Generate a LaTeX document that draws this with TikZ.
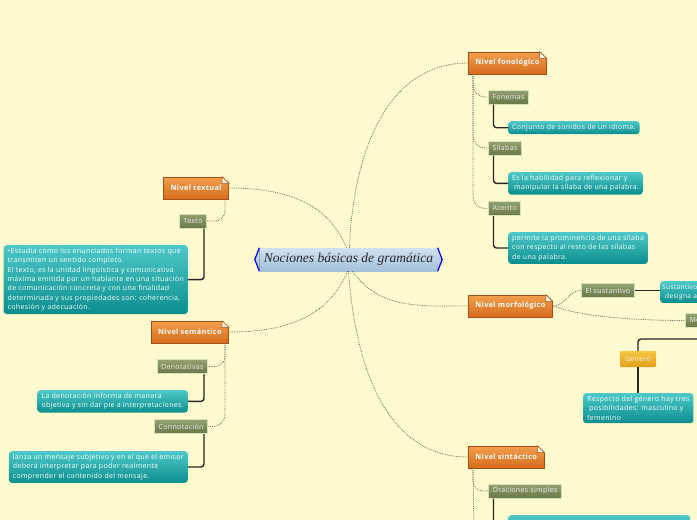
\documentclass[tikz,border=0pt]{standalone}
\usepackage{fontspec}
\setmainfont{Open Sans}[LetterSpace=5]
\newfontfamily\titulofont{Liberation Serif}
\usetikzlibrary{positioning}

\definecolor{fondo}{RGB}{255,251,206}
\definecolor{naranjaA}{RGB}{242,160,78}
\definecolor{naranjaB}{RGB}{214,108,28}
\definecolor{naranjaBorde}{RGB}{168,78,24}
\definecolor{verdeA}{RGB}{148,162,112}
\definecolor{verdeB}{RGB}{104,120,74}
\definecolor{verdeBorde}{RGB}{216,226,182}
\definecolor{tealA}{RGB}{78,200,200}
\definecolor{tealB}{RGB}{12,142,142}
\definecolor{oroA}{RGB}{248,198,66}
\definecolor{oroB}{RGB}{226,158,22}
\definecolor{azulA}{RGB}{208,226,242}
\definecolor{azulB}{RGB}{164,192,218}
\definecolor{gristrazo}{RGB}{112,110,96}

\tikzset{
  tema/.style={top color=azulA, bottom color=azulB, minimum width=178pt,
    minimum height=23pt, inner sep=0pt, text=black!85,
    font=\titulofont\itshape\fontsize{13.5}{15}\selectfont},
  chevron/.style={draw=blue, line width=1.2pt},
  nivel/.style={draw=naranjaBorde, line width=.8pt, top color=naranjaA,
    bottom color=naranjaB, text=white, minimum height=22pt, inner xsep=7pt,
    font=\bfseries\fontsize{7.3}{8}\selectfont},
  rama/.style={draw=verdeBorde, line width=1pt, top color=verdeA,
    bottom color=verdeB, text=white!94!black, minimum height=14pt,
    inner xsep=4pt, inner ysep=2pt, font=\fontsize{7}{8}\selectfont},
  genero/.style={top color=oroA, bottom color=oroB, text=white!94!black,
    minimum height=16pt, inner xsep=5pt, rounded corners=1pt,
    font=\fontsize{7}{8}\selectfont},
  nota/.style={rounded corners=3pt, top color=tealA, bottom color=tealB,
    text=white, align=left, inner xsep=4pt, inner ysep=3pt,
    font=\fontsize{7}{9.3}\selectfont},
  enlace/.style={densely dotted, line width=.8pt, draw=gristrazo},
  trazo/.style={line width=1.4pt, draw=black!85, rounded corners=3pt},
}

\begin{document}
\begin{tikzpicture}[x=1pt,y=1pt]
\fill[fondo] (0,0) rectangle (697,-520);
\useasboundingbox (0,0) rectangle (697,-520);

% tema central
\node[tema] (tema) at (348.5,-259.5) {Nociones básicas de gramática};
\fill[top color=azulA, bottom color=azulB]
  (tema.north west) -- ([xshift=-4.5pt]tema.west) -- (tema.south west) -- cycle;
\fill[top color=azulA, bottom color=azulB]
  (tema.north east) -- ([xshift=4.5pt]tema.east) -- (tema.south east) -- cycle;
\draw[chevron] (tema.north west) -- ([xshift=-4.5pt]tema.west) -- (tema.south west);
\draw[chevron] (tema.north east) -- ([xshift=4.5pt]tema.east) -- (tema.south east);

% niveles
\node[nivel, anchor=west] (fono) at (468,-63) {Nivel fonológico};
\node[nivel, anchor=east] (textual) at (229,-188) {Nivel textual};
\node[nivel, anchor=east] (sema) at (229,-332) {Nivel semántico};
\node[nivel, anchor=west] (morf) at (468,-306) {Nivel morfológico};
\node[nivel, anchor=west] (sint) at (468,-457) {Nivel sintáctico};

% esquina doblada
\foreach \n in {fono,textual,sema,morf,sint}{
  \fill[fondo] ([shift={(1,1)}]\n.north east) -- ++(-8,0) -- ++(8,-8) -- cycle;
  \filldraw[fill=white!92!naranjaA, draw=naranjaBorde, line width=.5pt]
    (\n.north east) ++(-7,0) -- ++(7,-7) -- ++(-7,0) -- cycle;
}

% ramas
\node[rama, anchor=west] (fonemas) at (488,-97) {Fonemas};
\node[rama, anchor=west] (silabas) at (488,-148) {Sílabas};
\node[rama, anchor=west] (acento) at (488,-208.5) {Acento};
\node[rama, anchor=east] (texto) at (207,-221) {Texto};
\node[rama, anchor=east] (deno) at (208,-366.5) {Denotativas};
\node[rama, anchor=east] (conno) at (208,-426.5) {Connotación};
\node[rama, anchor=west] (sust) at (581,-290.5) {El sustantivo};
\node[rama, anchor=west, text width=40pt, align=left] (mo) at (685,-320.5) {Mo};
\node[rama, anchor=west] (orac) at (488,-491) {Oraciones simples};
\node[genero] (gen) at (638,-359) {Generó};

% notas
\node[nota, anchor=north west] (conj) at (508,-121) {Conjunto de sonidos de un idioma.};
\node[nota, anchor=north west] (habil) at (508,-172)
  {Es la habilidad para reflexionar y\\\hspace*{2pt}manipular la sílaba de una palabra.};
\node[nota, anchor=north west] (perm) at (508,-232)
  {permite la prominencia de una sílaba\\con respecto al resto de las sílabas\\de una palabra.};
\node[nota, anchor=north east] (textnota) at (188,-245)
  {•Estudia cómo los enunciados forman textos que\\transmiten un sentido completo.\\
   El texto, es la unidad lingüística y comunicativa\\máxima emitida por un hablante en una situación\\
   de comunicación concreta y con una finalidad\\determinada y sus propiedades son: coherencia,\\
   cohesión y adecuación.};
\node[nota, anchor=north east] (denonota) at (188,-390)
  {La denotación informa de manera\\objetiva y sin dar pie a interpretaciones.};
\node[nota, anchor=north east] (connonota) at (188,-451)
  {lanza un mensaje subjetivo y en el que el emisor\\deberá interpretar para poder realmente\\
   comprender el contenido del mensaje.};
\node[nota, anchor=north west] (respnota) at (583,-393)
  {Respecto del género hay tres\\\hspace*{2pt}posibilidades: masculino y\\femenino};
\node[nota, anchor=north west, text width=40pt, inner xsep=2pt,
  font=\fontsize{6.6}{9.3}\selectfont] (sustnota) at (660,-281)
  {Sustantivo\\\hspace*{3pt}designa a};
\node[nota, anchor=north west, minimum width=182pt, minimum height=30pt] (oracnota) at (508,-515) {};

\coordinate (genpadre) at (715,-339);
\coordinate (sintsig) at (474,-535);

% del centro a los niveles
\draw[enlace] ([xshift=-2pt]tema.north) to[out=112,in=0] (textual.east);
\draw[enlace] ([xshift=1pt]tema.north) to[out=88,in=180] (fono.west);
\draw[enlace] ([xshift=-1pt]tema.south) to[out=-112,in=0] (sema.east);
\draw[enlace] ([xshift=4pt]tema.south) to[out=-55,in=180] (morf.west);
\draw[enlace] (tema.south) to[out=-86,in=180] (sint.west);

% de los niveles a las ramas
\draw[enlace, rounded corners=12pt] ([xshift=5pt]fono.south west) |- (fonemas.west);
\draw[enlace, rounded corners=12pt] ([xshift=5pt]fono.south west) |- (silabas.west);
\draw[enlace, rounded corners=12pt] ([xshift=5pt]fono.south west) |- (acento.west);
\draw[enlace, rounded corners=10pt] ([xshift=-4pt]textual.south east) |- (texto.east);
\draw[enlace, rounded corners=10pt] ([xshift=-4pt]sema.south east) |- (deno.east);
\draw[enlace, rounded corners=12pt] ([xshift=-4pt]sema.south east) |- (conno.east);
\draw[enlace] (morf.east) to[out=0,in=180] (sust.west);
\draw[enlace] (morf.east) to[out=-20,in=180,looseness=.7] (mo.west);
\draw[enlace, rounded corners=10pt] ([xshift=5pt]sint.south west) |- (orac.west);
\draw[enlace] ([xshift=5pt]sint.south west) -- (sintsig);

% de las ramas a las notas
\draw[trazo] ([xshift=5.5pt]fonemas.south west) |- (conj.west);
\draw[trazo] ([xshift=5.5pt]silabas.south west) |- (habil.west);
\draw[trazo] ([xshift=5.5pt]acento.south west) |- (perm.west);
\draw[trazo] ([xshift=-3pt]texto.south east) |- (textnota.east);
\draw[trazo] ([xshift=-4pt]deno.south east) |- (denonota.east);
\draw[trazo] ([xshift=-4pt]conno.south east) |- (connonota.east);
\draw[trazo] (sust.east) -- (sust.east -| sustnota.west);
\draw[trazo] (gen.north) |- (genpadre);
\draw[trazo] (gen.south) -- (gen.south |- respnota.north);
\draw[trazo] ([xshift=5.5pt]orac.south west) |- (oracnota.west);
\end{tikzpicture}
\end{document}
